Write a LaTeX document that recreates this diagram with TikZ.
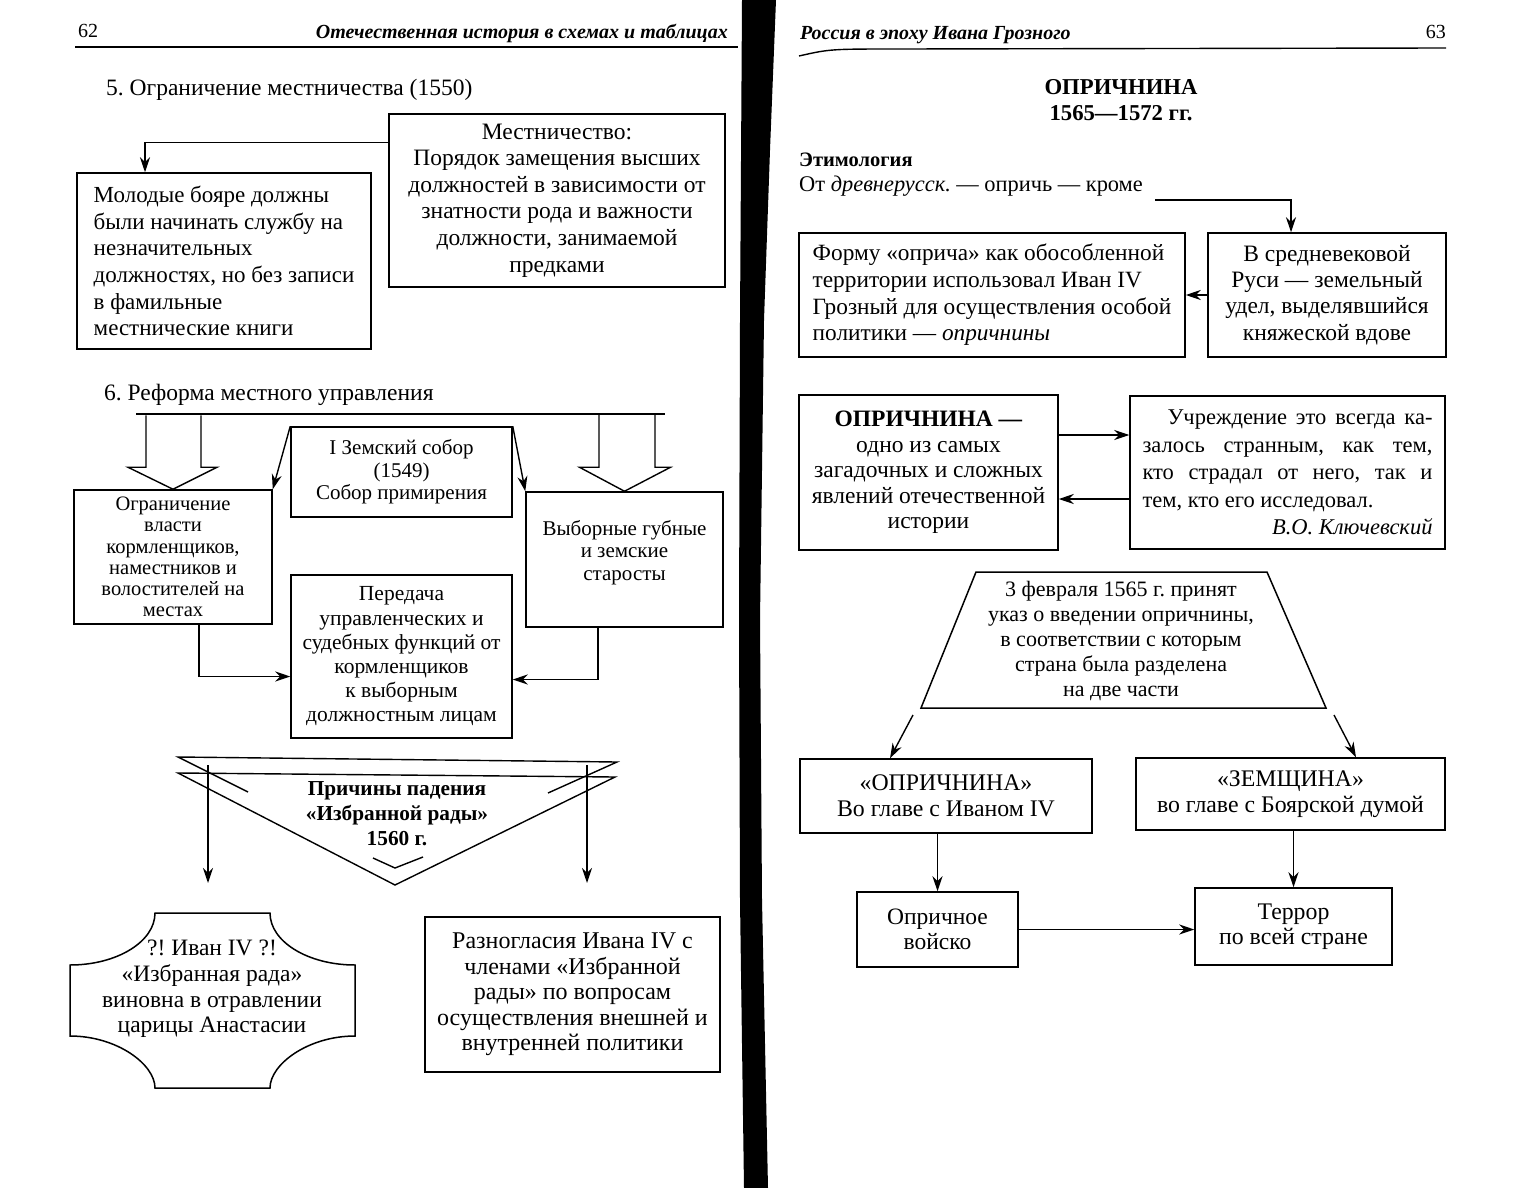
\documentclass[tikz,border=0pt]{standalone}
\usepackage{fontspec}
\setmainfont{Liberation Serif}
\setsansfont{Liberation Sans}
\usetikzlibrary{arrows.meta,calc}
\newcommand\fsz[2]{\fontsize{#1}{#2}\selectfont}
\frenchspacing

\begin{document}
\begin{tikzpicture}[x=1pt, y=-1pt,
  box/.style={draw, line width=1.5pt, inner sep=0pt, align=center, font=\fsz{23.3}{26.7}},
  smallbox/.style={box, font=\fsz{21}{22.5}},
  edge/.style={-{Stealth[length=15pt,width=10pt]}, line width=1.4pt},
  wire/.style={line width=1.4pt},
  txt/.style={inner sep=0pt, align=center}
]
\fill[white] (0,0) rectangle (1518,1188);
\useasboundingbox (0,0) rectangle (1518,1188);

% book spine
\fill[black] (742,0) -- (776,0) -- (770,150) -- (764,320) -- (760,620) -- (762,900) -- (768,1188)
  -- (744,1188) -- (740,900) -- (739,620) -- (740,320) -- cycle;

% ---- page 62 ----
\node[txt, anchor=west, font=\fsz{20}{24}] (pnl) at (78,31) {62};
\node[txt, anchor=east, font=\fsz{20}{24}\bfseries\itshape] (headl) at (728,33) {Отечественная история в схемах и таблицах};
\draw[wire] (75,47) -- (738,47);

\node[txt, anchor=west, font=\fsz{23.5}{26}] (sec5) at (106,90) {5. Ограничение местничества (1550)};

\node[box, minimum width=336, minimum height=173, font=\fsz{23.5}{26.6}] (mest) at (557,200.5)
  {Местничество:\\Порядок замещения высших\\должностей в зависимости от\\знатности рода и важности\\должности, занимаемой\\предками};
\node[box, minimum width=294, minimum height=176, align=left, font=\fsz{23}{26.7}] (boyar) at (224,261)
  {Молодые бояре должны\\были начинать службу на\\незначительных\\должностях, но без записи\\в фамильные\\местнические книги};
\draw[edge] ([yshift=-29pt]mest.north west) -| ([xshift=-79pt]boyar.north);

\node[txt, anchor=west, font=\fsz{23.5}{26}] (sec6) at (104,395) {6. Реформа местного управления};

\node[smallbox, minimum width=198, minimum height=134, font=\fsz{20.5}{21.2}] (ogr) at (173,557)
  {Ограничение\\власти\\кормленщиков,\\наместников и\\волостителей на\\местах};
\node[smallbox, minimum width=221, minimum height=90] (sobor) at (401.5,472)
  {I Земский собор\\(1549)\\Собор примирения};
\node[smallbox, minimum width=197, minimum height=135] (vybor) at (624.5,559.5)
  {Выборные губные\\и земские\\старосты\\[-4pt]};
\node[smallbox, minimum width=221, minimum height=163, font=\fsz{21.5}{24.2}] (pered) at (401.5,656.5)
  {Передача\\управленческих и\\судебных функций от\\кормленщиков\\к выборным\\должностным лицам};

\coordinate (busL) at (136,414);
\coordinate (busR) at (665,414);
\draw[wire] (busL) -- (busR);
\draw[wire] (ogr.north) -- ++(-45,-22) -- ++(18,0) -- ++(0,-52);
\draw[wire] (ogr.north) -- ++(44,-22) -- ++(-16,0) -- ++(0,-52);
\draw[wire] (vybor.north) -- ++(-45,-24) -- ++(19.5,0) -- ++(0,-54);
\draw[wire] (vybor.north) -- ++(46,-24) -- ++(-15.5,0) -- ++(0,-54);

\draw[edge] (sobor.north west) -- (ogr.north east);
\draw[edge] (sobor.north east) -- (vybor.north west);
\draw[edge] ([xshift=26pt]ogr.south) |- ([yshift=-20pt]pered.west);
\draw[edge] ([xshift=-26.5pt]vybor.south) |- ([yshift=-23pt]pered.east);

% fall of the chosen council
\draw[wire] (248,792) -- (178,757) -- (617,762) -- (548,793);
\draw[wire] (373,858) -- (395,868) -- (423,857);
\draw[wire] (178,773) -- (615,777) -- (395,885) -- cycle;
\node[txt, font=\fsz{21.3}{25}\bfseries] (prich) at (397,814) {Причины падения\\«Избранной рады»\\1560 г.};
\coordinate (causeL) at (208,765);
\coordinate (causeR) at (587,765);
\coordinate (dropL) at (208,883);
\coordinate (dropR) at (587,883);
\draw[edge] (causeL) -- (dropL);
\draw[edge] (causeR) -- (dropR);

\node[txt, font=\fsz{23.5}{25.7}] (poison) at (212,989)
  {?! Иван IV ?!\\«Избранная рада»\\виновна в отравлении\\царицы Анастасии};
\draw[line width=1.5pt] (155,913) -- (270,913) .. controls (270,941.7) and (308.1,965) .. (355,965)
  -- (355,1036) .. controls (308.1,1036) and (270,1064.3) .. (270,1088)
  -- (155,1088) .. controls (155,1064.3) and (116.9,1036) .. (70,1036)
  -- (70,965) .. controls (116.9,965) and (155,941.7) .. (155,913) -- cycle;
\node[box, minimum width=295, minimum height=155, font=\fsz{24}{25.5}] (razn) at (572.5,994.5)
  {Разногласия Ивана IV с\\членами «Избранной\\рады» по вопросам\\осуществления внешней и\\внутренней политики};

% ---- page 63 ----
\node[txt, anchor=west, font=\fsz{20}{24}\bfseries\itshape] (headr) at (800,35) {Россия в эпоху Ивана Грозного};
\node[txt, anchor=east, font=\fsz{20}{24}] (pnr) at (1446,32) {63};
\draw[wire] (799,56) .. controls (830,49) .. (900,49) -- (1446,48);

\node[txt, font=\fsz{22.7}{26}\bfseries] (title) at (1121,100) {ОПРИЧНИНА\\1565—1572 гг.};
\node[txt, anchor=west, font=\fsz{20.5}{22}\bfseries] (etym) at (799,160) {Этимология};
\node[txt, anchor=west, font=\fsz{22.4}{26}] (etymtxt) at (799,186) {От \textit{древнерусск.} — опричь — кроме};

\node[box, minimum width=386, minimum height=124, align=left] (forma) at (992,295)
  {Форму «оприча» как обособленной\\территории использовал Иван IV\\Грозный для осуществления особой\\политики — \textit{опричнины}};
\node[box, minimum width=238, minimum height=124, font=\fsz{23.5}{26.3}] (sredn) at (1327,295)
  {В средневековой\\Руси — земельный\\удел, выделявшийся\\княжеской вдове};
\coordinate (etymOut) at (1155,200);
\draw[edge] (etymOut) -| ([xshift=-36pt]sredn.north);
\draw[edge] (sredn.west) -- (forma.east);

\node[box, minimum width=259, minimum height=155, font=\fsz{23.5}{25.5}] (oprdef) at (928.5,472.5)
  {\textbf{ОПРИЧНИНА —}\\одно из самых\\загадочных и сложных\\явлений отечественной\\истории};
\node[box, minimum width=315, minimum height=153, align=left, font=\fsz{22.5}{27.5}] (klyuch) at (1287.5,472.5)
  {\hspace*{25pt}\makebox[265pt][s]{Учреждение это всегда ка-}\\
   \makebox[290pt][s]{залось странным, как тем,}\\
   \makebox[290pt][s]{кто страдал от него, так и}\\
   тем, кто его исследовал.\\
   \makebox[290pt][r]{\textit{В.О. Ключевский}}};
\draw[edge] ([yshift=37.5pt]oprdef.east) -- ([yshift=37.5pt]klyuch.west);
\draw[edge] ([yshift=-26.5pt]klyuch.west) -- ([yshift=-26.5pt]oprdef.east);

\draw[line width=1.5pt] (976,572) -- (1267,572) -- (1326,708) -- (921,708) -- cycle;
\node[txt, font=\fsz{22}{25}] (ukaz) at (1121,641)
  {3 февраля 1565 г. принят\\указ о введении опричнины,\\в соответствии с которым\\страна была разделена\\на две части};

\node[box, minimum width=292, minimum height=74, font=\fsz{23.8}{26}] (opri) at (946,796)
  {«ОПРИЧНИНА»\\Во главе с Иваном IV};
\node[box, minimum width=309, minimum height=72, font=\fsz{23.8}{26}] (zemsh) at (1290.5,794)
  {«ЗЕМЩИНА»\\во главе с Боярской думой};
\coordinate (trapL) at (913,715);
\coordinate (trapR) at (1334,715);
\draw[edge] (trapL) -- ([xshift=-56pt]opri.north);
\draw[edge] (trapR) -- ([xshift=65.5pt]zemsh.north);

\node[box, minimum width=161, minimum height=75, font=\fsz{23.5}{25}] (voysko) at (937.5,929.5)
  {Опричное\\войско};
\node[box, minimum width=197, minimum height=77, font=\fsz{23.8}{25}] (terror) at (1293.5,926.5)
  {Террор\\по всей стране};
\draw[edge] (opri.south -| voysko.north) -- (voysko.north);
\draw[edge] (zemsh.south -| terror.north) -- (terror.north);
\draw[edge] (voysko.east) -- (voysko.east -| terror.west);

\end{tikzpicture}
\end{document}
